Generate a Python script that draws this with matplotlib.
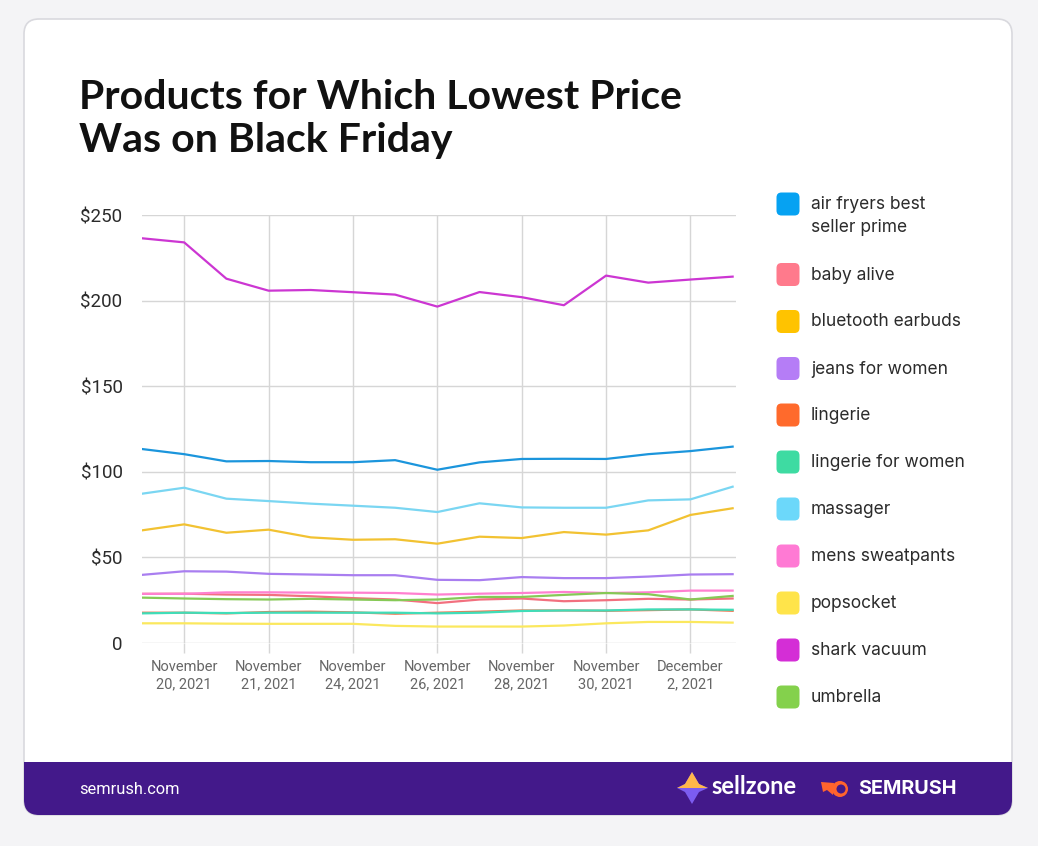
import numpy as np
import matplotlib
matplotlib.use("Agg")
import matplotlib.pyplot as plt
from matplotlib.patches import FancyBboxPatch, Rectangle, Polygon, Circle

# -------- Data ----------
x_idx = list(range(15))
tick_idx = [1, 3, 5, 7, 9, 11, 13]
tick_labels = ["November\n20, 2021", "November\n21, 2021", "November\n24, 2021",
               "November\n26, 2021", "November\n28, 2021", "November\n30, 2021",
               "December\n2, 2021"]

air_fryers = [113.3, 110.3, 106.1, 106.3, 105.6, 105.6, 106.8, 101.2, 105.5, 107.5, 107.6, 107.5, 110.3, 112.1, 114.7]
baby_alive = [28.7, 28.8, 28.3, 28.1, 27.3, 26.2, 25.4, 23.3, 25.4, 26.0, 24.4, 25.0, 25.8, 25.4, 26.0]
earbuds = [65.8, 69.3, 64.4, 66.2, 61.7, 60.3, 60.6, 58.0, 62.1, 61.3, 64.8, 63.3, 65.8, 74.8, 78.7]
jeans = [39.8, 41.9, 41.7, 40.4, 40.0, 39.6, 39.6, 36.9, 36.7, 38.5, 37.9, 37.9, 38.8, 40.0, 40.2]
lingerie = [17.7, 17.7, 17.3, 18.1, 18.3, 17.9, 17.1, 17.7, 18.3, 19.0, 19.0, 18.8, 19.2, 19.6, 18.8]
lingerie_women = [17.3, 17.7, 17.5, 17.7, 17.7, 17.7, 17.7, 17.3, 17.7, 18.7, 19.0, 19.0, 19.6, 19.6, 19.4]
massager = [87.2, 90.7, 84.3, 82.9, 81.4, 80.2, 79.0, 76.5, 81.6, 79.2, 79.0, 79.0, 83.3, 83.9, 91.3]
sweatpants = [28.7, 28.7, 29.6, 29.6, 29.4, 29.4, 29.2, 28.3, 28.8, 29.2, 29.8, 29.2, 29.6, 30.6, 30.6]
popsocket = [11.5, 11.5, 11.3, 11.2, 11.2, 11.2, 10.0, 9.6, 9.6, 9.6, 10.2, 11.5, 12.3, 12.3, 11.9]
shark_vacuum = [236.4, 234.0, 212.8, 205.8, 206.2, 204.9, 203.5, 196.5, 205.0, 202.0, 197.3, 214.6, 210.5, 212.3, 214.0]
umbrella = [26.5, 26.0, 25.6, 25.4, 25.8, 25.4, 25.0, 25.4, 26.9, 26.9, 28.1, 29.2, 28.5, 25.4, 27.5]

names = ["air fryers best\nseller prime", "baby alive", "bluetooth earbuds", "jeans for women",
         "lingerie", "lingerie for women", "massager", "mens sweatpants", "popsocket",
         "shark vacuum", "umbrella"]
series = [air_fryers, baby_alive, earbuds, jeans, lingerie, lingerie_women, massager,
          sweatpants, popsocket, shark_vacuum, umbrella]
legend_colors = ["#06A2F2", "#FF7A8C", "#FFC300", "#B57DF6", "#FF6A2C", "#3EDBA2",
                 "#6CD8FA", "#FF7AD4", "#FFE44A", "#D42ED6", "#84D14C"]
line_colors = ["#1B95DC", "#F2707F", "#F2C232", "#A97EF0", "#EB7A55", "#40DDB8",
               "#7AD6F2", "#FF80D0", "#FBE85E", "#CC36D2", "#86C956"]

W, H = 1038, 846
fig = plt.figure(figsize=(W / 100, H / 100), dpi=100)
fig.patch.set_facecolor("#F4F4F6")

# background layer in pixel coords
bg = fig.add_axes([0, 0, 1, 1], zorder=0)
bg.set_xlim(0, W)
bg.set_ylim(H, 0)
bg.axis("off")

card = FancyBboxPatch((24, 19), 988, 796, boxstyle="round,pad=0,rounding_size=15",
                      facecolor="white", edgecolor="#D9D9DE", linewidth=1.2)
bg.add_patch(card)
footer = Rectangle((24, 762), 988, 60, facecolor="#43198A", edgecolor="none")
bg.add_patch(footer)
footer.set_clip_path(card)

bg.text(79, 79, "Products for Which Lowest Price\nWas on Black Friday", fontsize=29.5,
        fontweight="bold", family="Lato", color="#111111", va="top", ha="left",
        linespacing=1.2)

bg.text(79, 789, "semrush.com", fontsize=11.8, family="Roboto", color="white",
        va="center", ha="left")

# sellzone star
star = Polygon([(692, 772), (699, 784), (708, 788), (699, 792), (692, 804), (685, 792),
                (677, 788), (685, 784)], closed=True, facecolor="#7C5CF0", edgecolor="none")
bg.add_patch(star)
bg.add_patch(Polygon([(692, 772), (699, 784), (708, 788), (677, 788), (685, 784)],
                     closed=True, facecolor="#FFB74A", edgecolor="none"))
bg.text(711, 787, "sellzone", fontsize=17, fontweight="bold", family="Lato",
        color="white", va="center", ha="left")

# semrush fireball
bg.add_patch(Circle((840, 789), 8, facecolor="#FF642D", edgecolor="none"))
bg.add_patch(Circle((841, 789), 4.5, facecolor="#43198A", edgecolor="none"))
bg.add_patch(Polygon([(821, 782), (834, 783), (833, 795), (827, 790), (823, 792)],
                     closed=True, facecolor="#FF642D", edgecolor="none"))
bg.text(858, 789, "SEMRUSH", fontsize=14.3, fontweight="bold", family="Inter",
        color="white", va="center", ha="left")

# legend
row_y = [204, 274.5, 321.5, 368.5, 415, 462, 509, 556, 603, 650, 697]
for name, col, yy in zip(names, legend_colors, row_y):
    bg.add_patch(FancyBboxPatch((776.5, yy - 11.5), 23, 23,
                                boxstyle="round,pad=0,rounding_size=5",
                                facecolor=col, edgecolor="none"))
    bg.text(811, yy - 8, name, fontsize=12.5, family="Inter", color="#2B2B2B",
            va="top", ha="left", linespacing=1.5)

# -------- Chart ----------
ax = fig.add_axes([142 / W, (H - 643) / H, (736 - 142) / W, (643 - 215) / H], zorder=1)
ax.patch.set_alpha(0)
for vals, col in zip(series, line_colors):
    ax.plot(x_idx, vals, color=col, linewidth=1.6, solid_joinstyle="round")

ax.set_xlim(0, 14.08)
ax.set_ylim(0, 250)
ax.set_yticks([0, 50, 100, 150, 200, 250])
ax.set_yticklabels(["0", "$50", "$100", "$150", "$200", "$250"])
ax.set_xticks(tick_idx)
ax.set_xticklabels(tick_labels)
ax.grid(True, color="#D6D6D6", linewidth=1.0)
ax.set_axisbelow(True)
for s in ax.spines.values():
    s.set_visible(False)
ax.tick_params(axis="y", length=0, pad=14, labelsize=13.5, labelcolor="#2B2B2B")
ax.tick_params(axis="x", length=7, color="#D6D6D6", width=1.0, pad=5, labelsize=10.5,
               labelcolor="#666666")
for lab in ax.get_yticklabels():
    lab.set_family("Roboto")
for lab in ax.get_xticklabels():
    lab.set_family("Roboto")
    lab.set_linespacing(1.35)

fig.savefig("out.png", dpi=100, facecolor=fig.get_facecolor())
